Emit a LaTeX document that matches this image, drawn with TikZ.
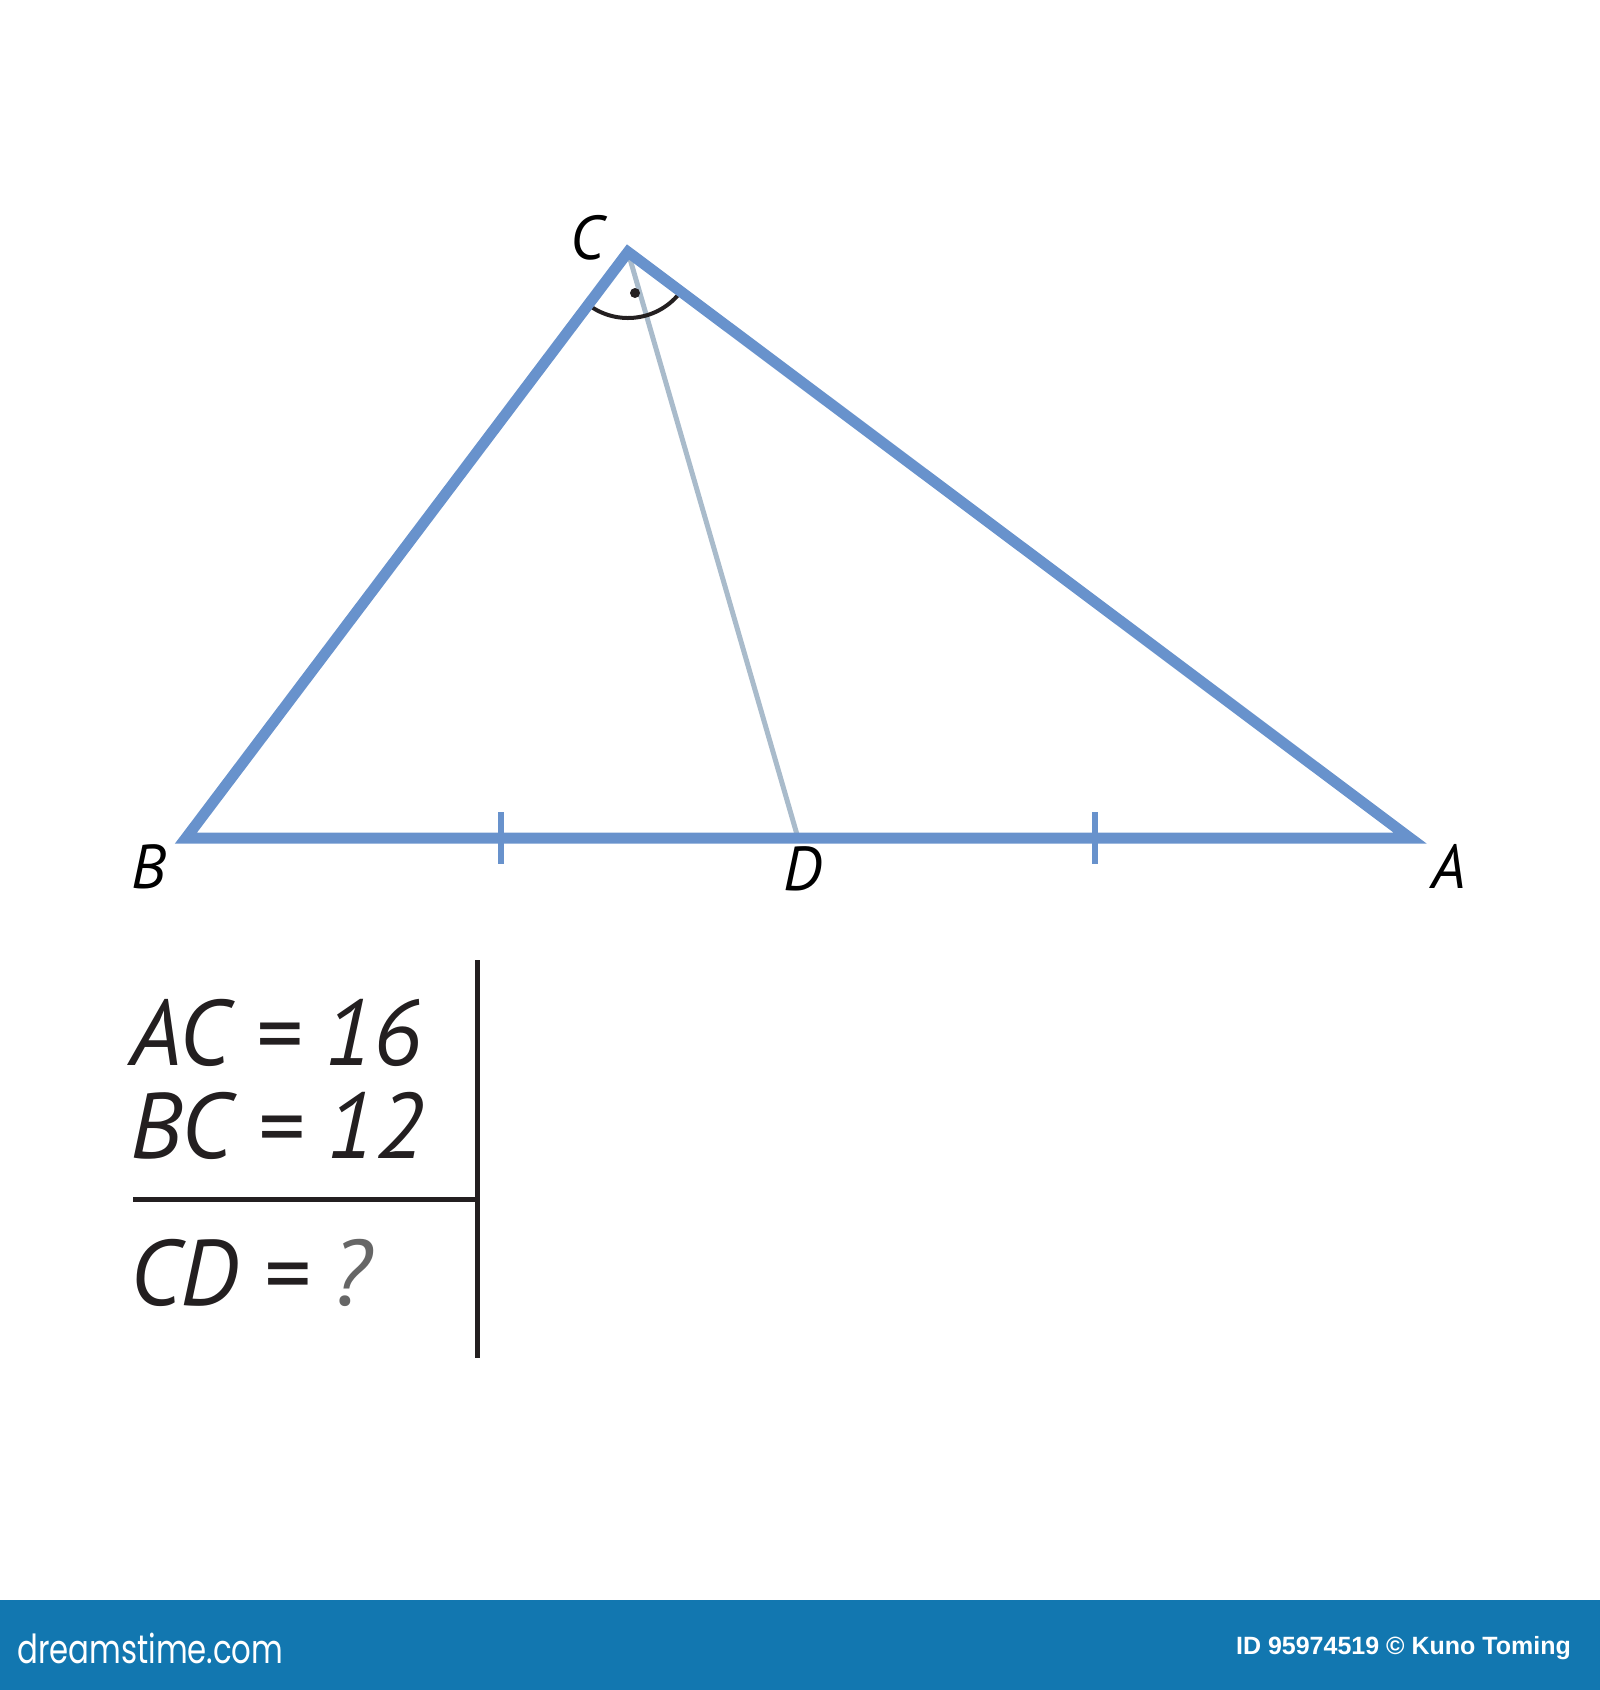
\documentclass[tikz,border=0pt]{standalone}
\usepackage{fontspec}
\setmainfont{PT Sans}
\newfontfamily\logofont{Poppins}
\newfontfamily\idfont{Liberation Sans}
\usetikzlibrary{positioning, calc}
\definecolor{sideblue}{HTML}{6892CC}
\definecolor{medgray}{HTML}{A9BBCB}
\definecolor{inkblack}{HTML}{231F20}
\definecolor{bannerblue}{HTML}{1277B0}
\tikzset{
    x=1pt, y=-1pt, % one unit is one pixel, y runs downwards
    side/.style={draw=sideblue, line width=11pt, line join=miter}, % sides of the triangle
    median/.style={draw=medgray, line width=5pt}, % the segment CD
    tickmark/.style={draw=sideblue, line width=6pt}, % equal parts on AB
    angmark/.style={draw=inkblack, line width=4pt}, % right angle at C
    vlabel/.style={text=black, font=\itshape\fontsize{62}{62}\selectfont, inner sep=0pt},
    given/.style={text=inkblack, font=\itshape\fontsize{93}{93}\selectfont, inner sep=0pt},
    rule/.style={draw=inkblack, line width=5pt},
}
\tikzstyle{logo} = [text=white, font=\logofont\fontsize{40}{40}\selectfont, inner sep=0pt]
\tikzstyle{credit} = [text=white, font=\idfont\bfseries\fontsize{25}{25}\selectfont, inner sep=0pt]

\begin{document}
\begin{tikzpicture}
    \useasboundingbox (0,0) rectangle (1600,1690);

    \coordinate (B) at (186,838);
    \coordinate (C) at (628,252);
    \coordinate (A) at (1410,838);
    \coordinate (D) at ($(A)!0.5!(B)$);
    \coordinate (T1) at ($(D)+(-297,0)$);
    \coordinate (T2) at ($(D)+(297,0)$);

    \draw[median] (C) -- (D);
    \draw[angmark] ([shift={(37:66)}]C) arc[start angle=37, end angle=127, radius=66];
    \fill[inkblack] (C) ++(7,41) circle[radius=5];
    \draw[side] (B) -- (C) -- (A) -- cycle;
    \draw[tickmark] ([yshift=26pt]T1) -- ([yshift=-26pt]T1);
    \draw[tickmark] ([yshift=26pt]T2) -- ([yshift=-26pt]T2);

    \node[vlabel] (lC) at (587,238) {C};
    \node[vlabel] (lB) at (149,867) {B};
    \node[vlabel] (lD) at (803,869) {D};
    \node[vlabel] (lA) at (1449,866) {A};

    % given data and question
    \node[given, anchor=base west] (ac) at (130,1065) {AC = 16};
    \node[given, anchor=base west] (bc) at (130,1158) {BC = 12};
    \node[given, anchor=base west] (cd) at (130,1305) {CD = \textcolor{black!60}{?}};

    \coordinate (hl) at (133,1199);
    \coordinate (hr) at (477,1199);
    \coordinate (vt) at (477,960);
    \coordinate (vb) at (477,1358);
    \draw[rule] (hl) -- (hr);
    \draw[rule] (vt) -- (vb);

    % banner
    \fill[bannerblue] (0,1600) rectangle (1600,1690);
    \node[logo, anchor=base west] (brand) at (17,1663) {\scalebox{0.77}[1]{dreamstime.com}};
    \node[credit, anchor=base east] (idtext) at (1571,1654) {ID 95974519 © Kuno Toming};
\end{tikzpicture}
\end{document}
